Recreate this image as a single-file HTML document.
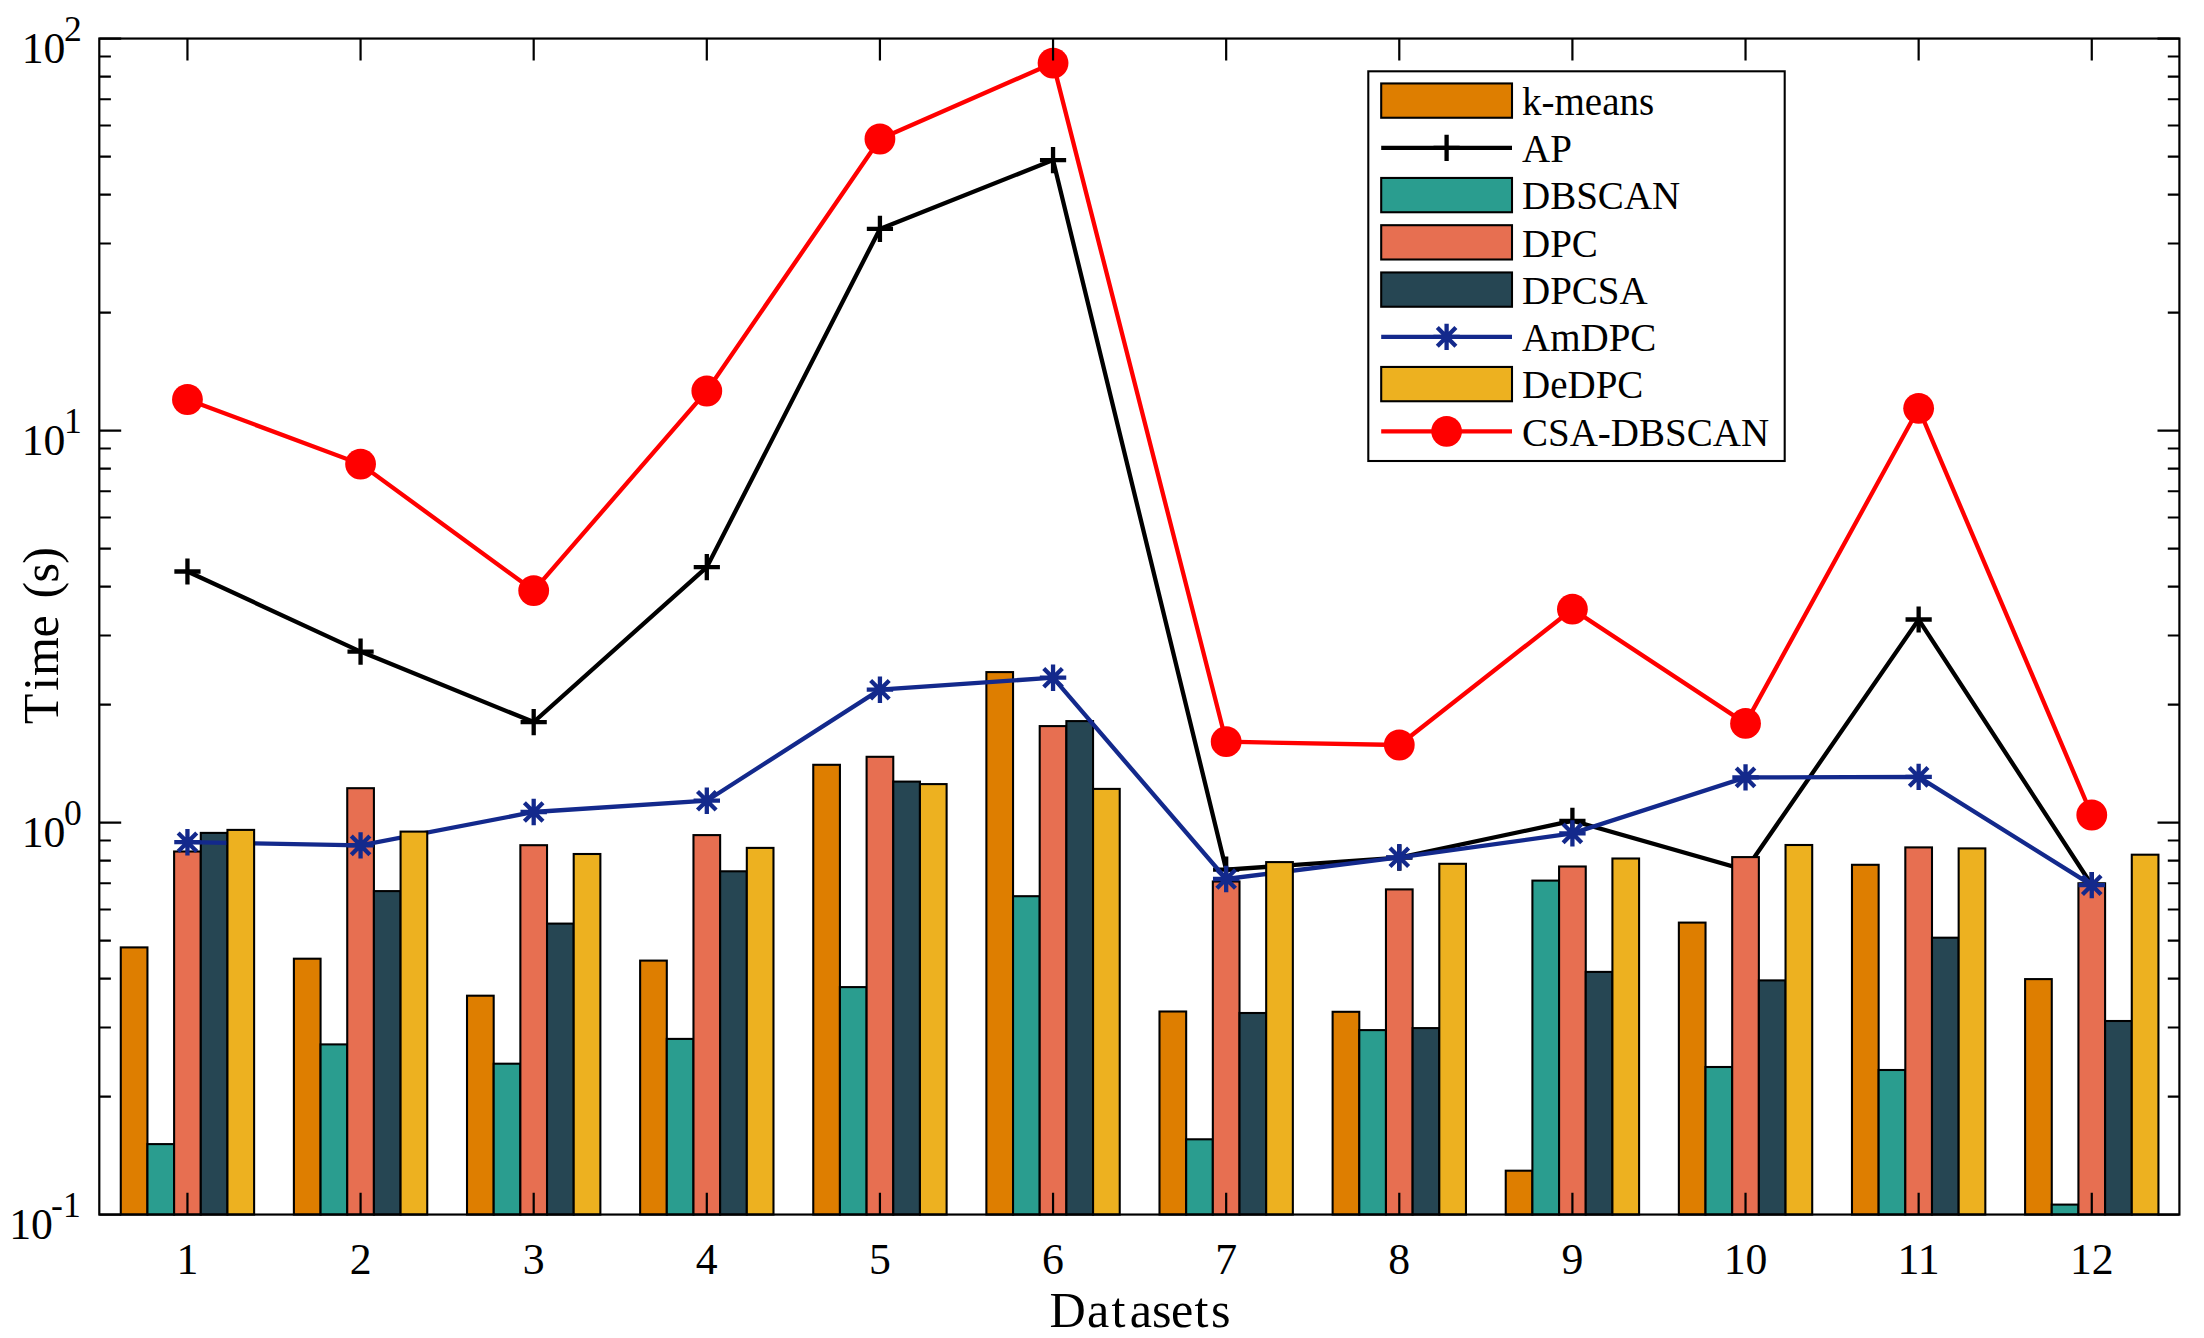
<!DOCTYPE html>
<html lang="en"><head><meta charset="utf-8"><title>Running time on datasets</title>
<style>html,body{margin:0;padding:0;background:#fff}body{width:2204px;height:1338px;overflow:hidden}svg{display:block}text{font-family:'Liberation Serif', 'DejaVu Serif', serif;fill:#000}</style>
</head><body>
<svg width="2204" height="1338" viewBox="0 0 2204 1338">
<rect width="2204" height="1338" fill="#fff"/>
<g fill="#DE7E00" stroke="#000" stroke-width="2.08">
<rect x="120.77" y="947.40" width="26.67" height="267.15"/>
<rect x="293.89" y="958.70" width="26.67" height="255.85"/>
<rect x="467.02" y="995.70" width="26.67" height="218.85"/>
<rect x="640.13" y="960.60" width="26.67" height="253.95"/>
<rect x="813.26" y="764.80" width="26.67" height="449.75"/>
<rect x="986.38" y="672.10" width="26.67" height="542.45"/>
<rect x="1159.50" y="1011.50" width="26.67" height="203.05"/>
<rect x="1332.62" y="1011.80" width="26.67" height="202.75"/>
<rect x="1505.74" y="1170.70" width="26.67" height="43.85"/>
<rect x="1678.86" y="922.60" width="26.67" height="291.95"/>
<rect x="1851.98" y="864.80" width="26.67" height="349.75"/>
<rect x="2025.10" y="979.10" width="26.67" height="235.45"/>
</g>
<polyline points="187.45,571.50 360.57,651.60 533.69,722.10 706.81,567.20 879.93,228.90 1053.05,160.10 1226.17,869.70 1399.29,857.60 1572.41,820.80 1745.53,870.00 1918.65,619.50 2091.77,885.00" fill="none" stroke="#000" stroke-width="4.3" stroke-linejoin="miter"/>
<path d="M174.35 571.50H200.55M187.45 558.40V584.60" stroke="#000" stroke-width="4.3" fill="none"/>
<path d="M347.47 651.60H373.67M360.57 638.50V664.70" stroke="#000" stroke-width="4.3" fill="none"/>
<path d="M520.59 722.10H546.79M533.69 709.00V735.20" stroke="#000" stroke-width="4.3" fill="none"/>
<path d="M693.71 567.20H719.91M706.81 554.10V580.30" stroke="#000" stroke-width="4.3" fill="none"/>
<path d="M866.83 228.90H893.03M879.93 215.80V242.00" stroke="#000" stroke-width="4.3" fill="none"/>
<path d="M1039.95 160.10H1066.15M1053.05 147.00V173.20" stroke="#000" stroke-width="4.3" fill="none"/>
<path d="M1213.07 869.70H1239.27M1226.17 856.60V882.80" stroke="#000" stroke-width="4.3" fill="none"/>
<path d="M1386.19 857.60H1412.39M1399.29 844.50V870.70" stroke="#000" stroke-width="4.3" fill="none"/>
<path d="M1559.31 820.80H1585.51M1572.41 807.70V833.90" stroke="#000" stroke-width="4.3" fill="none"/>
<path d="M1732.43 870.00H1758.63M1745.53 856.90V883.10" stroke="#000" stroke-width="4.3" fill="none"/>
<path d="M1905.55 619.50H1931.75M1918.65 606.40V632.60" stroke="#000" stroke-width="4.3" fill="none"/>
<path d="M2078.67 885.00H2104.87M2091.77 871.90V898.10" stroke="#000" stroke-width="4.3" fill="none"/>
<g fill="#2A9D8F" stroke="#000" stroke-width="2.08">
<rect x="147.44" y="1144.10" width="26.67" height="70.45"/>
<rect x="320.56" y="1044.40" width="26.67" height="170.15"/>
<rect x="493.69" y="1063.70" width="26.67" height="150.85"/>
<rect x="666.80" y="1038.90" width="26.67" height="175.65"/>
<rect x="839.93" y="987.10" width="26.67" height="227.45"/>
<rect x="1013.04" y="896.20" width="26.67" height="318.35"/>
<rect x="1186.16" y="1139.30" width="26.67" height="75.25"/>
<rect x="1359.29" y="1030.10" width="26.67" height="184.45"/>
<rect x="1532.40" y="880.60" width="26.67" height="333.95"/>
<rect x="1705.52" y="1067.00" width="26.67" height="147.55"/>
<rect x="1878.64" y="1070.00" width="26.67" height="144.55"/>
<rect x="2051.76" y="1204.60" width="26.67" height="9.95"/>
</g>
<g fill="#E76F51" stroke="#000" stroke-width="2.08">
<rect x="174.11" y="851.50" width="26.67" height="363.05"/>
<rect x="347.24" y="788.20" width="26.67" height="426.35"/>
<rect x="520.36" y="845.20" width="26.67" height="369.35"/>
<rect x="693.47" y="835.10" width="26.67" height="379.45"/>
<rect x="866.60" y="756.80" width="26.67" height="457.75"/>
<rect x="1039.71" y="726.10" width="26.67" height="488.45"/>
<rect x="1212.84" y="881.50" width="26.67" height="333.05"/>
<rect x="1385.96" y="889.40" width="26.67" height="325.15"/>
<rect x="1559.08" y="866.50" width="26.67" height="348.05"/>
<rect x="1732.19" y="857.10" width="26.67" height="357.45"/>
<rect x="1905.32" y="847.40" width="26.67" height="367.15"/>
<rect x="2078.43" y="883.30" width="26.67" height="331.25"/>
</g>
<g fill="#264653" stroke="#000" stroke-width="2.08">
<rect x="200.78" y="832.90" width="26.67" height="381.65"/>
<rect x="373.90" y="891.10" width="26.67" height="323.45"/>
<rect x="547.03" y="923.60" width="26.67" height="290.95"/>
<rect x="720.14" y="871.30" width="26.67" height="343.25"/>
<rect x="893.27" y="781.60" width="26.67" height="432.95"/>
<rect x="1066.38" y="721.10" width="26.67" height="493.45"/>
<rect x="1239.51" y="1013.00" width="26.67" height="201.55"/>
<rect x="1412.63" y="1028.10" width="26.67" height="186.45"/>
<rect x="1585.75" y="971.90" width="26.67" height="242.65"/>
<rect x="1758.87" y="980.40" width="26.67" height="234.15"/>
<rect x="1931.99" y="937.70" width="26.67" height="276.85"/>
<rect x="2105.11" y="1021.00" width="26.67" height="193.55"/>
</g>
<polyline points="187.45,842.20 360.57,845.40 533.69,812.00 706.81,800.70 879.93,689.70 1053.05,677.70 1226.17,879.00 1399.29,857.30 1572.41,833.40 1745.53,777.40 1918.65,776.90 2091.77,885.10" fill="none" stroke="#13298C" stroke-width="4.3" stroke-linejoin="miter"/>
<path d="M174.25 842.20H200.65M187.45 829.00V855.40M178.15 832.90L196.75 851.50M178.15 851.50L196.75 832.90" stroke="#13298C" stroke-width="4.3" fill="none"/>
<path d="M347.37 845.40H373.77M360.57 832.20V858.60M351.27 836.10L369.87 854.70M351.27 854.70L369.87 836.10" stroke="#13298C" stroke-width="4.3" fill="none"/>
<path d="M520.49 812.00H546.89M533.69 798.80V825.20M524.39 802.70L542.99 821.30M524.39 821.30L542.99 802.70" stroke="#13298C" stroke-width="4.3" fill="none"/>
<path d="M693.61 800.70H720.01M706.81 787.50V813.90M697.51 791.40L716.11 810.00M697.51 810.00L716.11 791.40" stroke="#13298C" stroke-width="4.3" fill="none"/>
<path d="M866.73 689.70H893.13M879.93 676.50V702.90M870.63 680.40L889.23 699.00M870.63 699.00L889.23 680.40" stroke="#13298C" stroke-width="4.3" fill="none"/>
<path d="M1039.85 677.70H1066.25M1053.05 664.50V690.90M1043.75 668.40L1062.35 687.00M1043.75 687.00L1062.35 668.40" stroke="#13298C" stroke-width="4.3" fill="none"/>
<path d="M1212.97 879.00H1239.37M1226.17 865.80V892.20M1216.87 869.70L1235.47 888.30M1216.87 888.30L1235.47 869.70" stroke="#13298C" stroke-width="4.3" fill="none"/>
<path d="M1386.09 857.30H1412.49M1399.29 844.10V870.50M1389.99 848.00L1408.59 866.60M1389.99 866.60L1408.59 848.00" stroke="#13298C" stroke-width="4.3" fill="none"/>
<path d="M1559.21 833.40H1585.61M1572.41 820.20V846.60M1563.11 824.10L1581.71 842.70M1563.11 842.70L1581.71 824.10" stroke="#13298C" stroke-width="4.3" fill="none"/>
<path d="M1732.33 777.40H1758.73M1745.53 764.20V790.60M1736.23 768.10L1754.83 786.70M1736.23 786.70L1754.83 768.10" stroke="#13298C" stroke-width="4.3" fill="none"/>
<path d="M1905.45 776.90H1931.85M1918.65 763.70V790.10M1909.35 767.60L1927.95 786.20M1909.35 786.20L1927.95 767.60" stroke="#13298C" stroke-width="4.3" fill="none"/>
<path d="M2078.57 885.10H2104.97M2091.77 871.90V898.30M2082.47 875.80L2101.07 894.40M2082.47 894.40L2101.07 875.80" stroke="#13298C" stroke-width="4.3" fill="none"/>
<g fill="#EDB120" stroke="#000" stroke-width="2.08">
<rect x="227.45" y="829.90" width="26.67" height="384.65"/>
<rect x="400.57" y="831.60" width="26.67" height="382.95"/>
<rect x="573.70" y="854.00" width="26.67" height="360.55"/>
<rect x="746.81" y="847.90" width="26.67" height="366.65"/>
<rect x="919.94" y="784.10" width="26.67" height="430.45"/>
<rect x="1093.06" y="788.90" width="26.67" height="425.65"/>
<rect x="1266.18" y="862.10" width="26.67" height="352.45"/>
<rect x="1439.30" y="863.80" width="26.67" height="350.75"/>
<rect x="1612.42" y="858.50" width="26.67" height="356.05"/>
<rect x="1785.54" y="845.00" width="26.67" height="369.55"/>
<rect x="1958.66" y="848.40" width="26.67" height="366.15"/>
<rect x="2131.78" y="854.70" width="26.67" height="359.85"/>
</g>
<polyline points="187.45,399.50 360.57,464.10 533.69,590.60 706.81,391.00 879.93,139.00 1053.05,63.10 1226.17,741.70 1399.29,745.00 1572.41,609.20 1745.53,723.40 1918.65,408.30 2091.77,815.00" fill="none" stroke="#FF0000" stroke-width="4.3" stroke-linejoin="miter"/>
<circle cx="187.45" cy="399.50" r="15.4" fill="#FF0000"/>
<circle cx="360.57" cy="464.10" r="15.4" fill="#FF0000"/>
<circle cx="533.69" cy="590.60" r="15.4" fill="#FF0000"/>
<circle cx="706.81" cy="391.00" r="15.4" fill="#FF0000"/>
<circle cx="879.93" cy="139.00" r="15.4" fill="#FF0000"/>
<circle cx="1053.05" cy="63.10" r="15.4" fill="#FF0000"/>
<circle cx="1226.17" cy="741.70" r="15.4" fill="#FF0000"/>
<circle cx="1399.29" cy="745.00" r="15.4" fill="#FF0000"/>
<circle cx="1572.41" cy="609.20" r="15.4" fill="#FF0000"/>
<circle cx="1745.53" cy="723.40" r="15.4" fill="#FF0000"/>
<circle cx="1918.65" cy="408.30" r="15.4" fill="#FF0000"/>
<circle cx="2091.77" cy="815.00" r="15.4" fill="#FF0000"/>
<g stroke="#000" stroke-width="2.2" fill="none">
<rect x="99.3" y="38.55" width="2080.10" height="1176.00"/>
<path d="M187.45 1214.55v-21.9M187.45 38.55v21.9M360.57 1214.55v-21.9M360.57 38.55v21.9M533.69 1214.55v-21.9M533.69 38.55v21.9M706.81 1214.55v-21.9M706.81 38.55v21.9M879.93 1214.55v-21.9M879.93 38.55v21.9M1053.05 1214.55v-21.9M1053.05 38.55v21.9M1226.17 1214.55v-21.9M1226.17 38.55v21.9M1399.29 1214.55v-21.9M1399.29 38.55v21.9M1572.41 1214.55v-21.9M1572.41 38.55v21.9M1745.53 1214.55v-21.9M1745.53 38.55v21.9M1918.65 1214.55v-21.9M1918.65 38.55v21.9M2091.77 1214.55v-21.9M2091.77 38.55v21.9M99.3 1214.55h21.9M2179.4 1214.55h-21.9M99.3 1096.55h11.6M2179.4 1096.55h-11.6M99.3 1027.52h11.6M2179.4 1027.52h-11.6M99.3 978.54h11.6M2179.4 978.54h-11.6M99.3 940.55h11.6M2179.4 940.55h-11.6M99.3 909.51h11.6M2179.4 909.51h-11.6M99.3 883.27h11.6M2179.4 883.27h-11.6M99.3 860.54h11.6M2179.4 860.54h-11.6M99.3 840.49h11.6M2179.4 840.49h-11.6M99.3 822.55h21.9M2179.4 822.55h-21.9M99.3 704.55h11.6M2179.4 704.55h-11.6M99.3 635.52h11.6M2179.4 635.52h-11.6M99.3 586.54h11.6M2179.4 586.54h-11.6M99.3 548.55h11.6M2179.4 548.55h-11.6M99.3 517.51h11.6M2179.4 517.51h-11.6M99.3 491.27h11.6M2179.4 491.27h-11.6M99.3 468.54h11.6M2179.4 468.54h-11.6M99.3 448.49h11.6M2179.4 448.49h-11.6M99.3 430.55h21.9M2179.4 430.55h-21.9M99.3 312.55h11.6M2179.4 312.55h-11.6M99.3 243.52h11.6M2179.4 243.52h-11.6M99.3 194.54h11.6M2179.4 194.54h-11.6M99.3 156.55h11.6M2179.4 156.55h-11.6M99.3 125.51h11.6M2179.4 125.51h-11.6M99.3 99.27h11.6M2179.4 99.27h-11.6M99.3 76.54h11.6M2179.4 76.54h-11.6M99.3 56.49h11.6M2179.4 56.49h-11.6M99.3 38.55h21.9M2179.4 38.55h-21.9"/>
</g>
<g font-size="43.75" text-anchor="middle">
<text x="187.45" y="1273.5">1</text>
<text x="360.57" y="1273.5">2</text>
<text x="533.69" y="1273.5">3</text>
<text x="706.81" y="1273.5">4</text>
<text x="879.93" y="1273.5">5</text>
<text x="1053.05" y="1273.5">6</text>
<text x="1226.17" y="1273.5">7</text>
<text x="1399.29" y="1273.5">8</text>
<text x="1572.41" y="1273.5">9</text>
<text x="1745.53" y="1273.5">10</text>
<text x="1918.65" y="1273.5">11</text>
<text x="2091.77" y="1273.5">12</text>
</g>
<text x="9.2" y="1238.95" font-size="43.75">10</text>
<text x="51.1" y="1217.15" font-size="35.6">-1</text>
<text x="21.7" y="846.95" font-size="43.75">10</text>
<text x="64.0" y="825.15" font-size="35.6">0</text>
<text x="21.7" y="454.95" font-size="43.75">10</text>
<text x="64.0" y="433.15" font-size="35.6">1</text>
<text x="21.7" y="62.95" font-size="43.75">10</text>
<text x="64.0" y="41.15" font-size="35.6">2</text>
<text x="1140.4" y="1326.6" dx="0.3 -0.3 0.8 2.7 -1.4 -2.1 -0.3 1.0" font-size="50.2" letter-spacing="1.5" text-anchor="middle">Datasets</text>
<text transform="translate(57.8 635.9) rotate(-90)" dx="0.7 4.0 0 -1.4 0 -0.4 -1.4 -1.5" font-size="50" letter-spacing="0.85" word-spacing="3" text-anchor="middle">Time (s)</text>
<rect x="1368.3" y="71.3" width="416.40" height="389.70" fill="#fff" stroke="#000" stroke-width="2.08"/>
<rect x="1381.2" y="83.45" width="130.80" height="34.3" fill="#DE7E00" stroke="#000" stroke-width="2.08"/>
<text x="1522" y="114.90" font-size="39.0">k-means</text>
<path d="M1381.2 147.85H1512.0" stroke="#000" stroke-width="4.3"/>
<path d="M1433.50 147.85H1459.70M1446.60 134.75V160.95" stroke="#000" stroke-width="4.3" fill="none"/>
<text x="1522" y="162.15" font-size="39.0">AP</text>
<rect x="1381.2" y="177.95" width="130.80" height="34.3" fill="#2A9D8F" stroke="#000" stroke-width="2.08"/>
<text x="1522" y="209.40" font-size="39.0">DBSCAN</text>
<rect x="1381.2" y="225.20" width="130.80" height="34.3" fill="#E76F51" stroke="#000" stroke-width="2.08"/>
<text x="1522" y="256.65" font-size="39.0">DPC</text>
<rect x="1381.2" y="272.45" width="130.80" height="34.3" fill="#264653" stroke="#000" stroke-width="2.08"/>
<text x="1522" y="303.90" font-size="39.0">DPCSA</text>
<path d="M1381.2 336.85H1512.0" stroke="#13298C" stroke-width="4.3"/>
<path d="M1433.40 336.85H1459.80M1446.60 323.65V350.05M1437.30 327.55L1455.90 346.15M1437.30 346.15L1455.90 327.55" stroke="#13298C" stroke-width="4.3" fill="none"/>
<text x="1522" y="351.15" font-size="39.0">AmDPC</text>
<rect x="1381.2" y="366.95" width="130.80" height="34.3" fill="#EDB120" stroke="#000" stroke-width="2.08"/>
<text x="1522" y="398.40" font-size="39.0">DeDPC</text>
<path d="M1381.2 431.35H1512.0" stroke="#FF0000" stroke-width="4.3"/>
<circle cx="1446.60" cy="431.35" r="15.4" fill="#FF0000"/>
<text x="1522" y="445.65" font-size="39.0">CSA-DBSCAN</text>
</svg>
</body></html>
